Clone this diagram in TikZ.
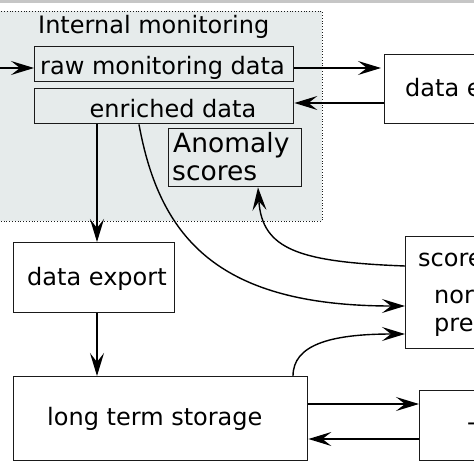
\documentclass[tikz,border=0pt]{standalone}
\usepackage{fontspec}
\setmainfont{DejaVu Sans}
\usetikzlibrary{arrows.meta}
\definecolor{contfill}{HTML}{E6EBEB}
\definecolor{bandgray}{HTML}{C6C6C6}
\definecolor{linec}{HTML}{1A1A1A}
\tikzset{
  box/.style={draw=linec, line width=1.4pt, rectangle, inner sep=0pt, anchor=north west},
  txt/.style={inner sep=0pt, anchor=base west, font=\fontsize{24}{28}\selectfont, text=black},
  bigtxt/.style={inner sep=0pt, anchor=base west, font=\fontsize{26.5}{30}\selectfont, text=black},
  conn/.style={draw=black, line width=1.4pt, -{Stealth[length=23pt,width=14pt,inset=9pt]}},
}
\begin{document}
\begin{tikzpicture}[x=1pt,y=-1pt]
\useasboundingbox (0,0) rectangle (474,474);
\clip (0,0) rectangle (474,474);
\fill[white] (0,0) rectangle (474,474);
\fill[bandgray] (0,0) rectangle (474,3);
% container
\filldraw[fill=contfill, draw=linec, line width=0.8pt, dotted] (-2,11) rectangle (322,221);
% boxes
\node[box, minimum width=259pt, minimum height=35pt] (raw) at (34,46) {};
\node[box, minimum width=259pt, minimum height=35pt] (enr) at (34,88) {};
\node[box, minimum width=133pt, minimum height=58pt] (anom) at (168,128) {};
\node[box, fill=white, minimum width=120pt, minimum height=69pt] (dex) at (384,54) {};
\node[box, fill=white, minimum width=161pt, minimum height=70pt] (exp) at (13,242) {};
\node[box, fill=white, minimum width=294pt, minimum height=84pt] (lts) at (13,376) {};
\node[box, fill=white, minimum width=100pt, minimum height=112pt] (sc) at (405,236) {};
\node[box, fill=white, minimum width=100pt, minimum height=70pt] (rb) at (419,390) {};
\coordinate (inL) at (0,68);
% texts
\node[txt] (tIM) at (38,33) {Internal monitoring};
\node[txt] (tRaw) at (40,74) {raw monitoring data};
\node[txt] (tEnr) at (89.5,117) {enriched data};
\node[bigtxt] (tA1) at (173,152) {Anomaly};
\node[bigtxt] (tA2) at (172,180) {scores};
\node[txt] (tDE) at (405,96) {data e};
\node[txt] (tExp) at (27,285) {data export};
\node[txt] (tLts) at (47,425) {long term storage};
\node[txt] (tS1) at (418,266) {score};
\node[txt] (tS2) at (434,303) {nor};
\node[txt] (tS3) at (434,331) {pre};
\node[txt] (tR) at (467,430) {-};
% connectors
\draw[conn] (inL) -- (raw.west |- inL);
\draw[conn] (raw.east |- 0,68) -- ([xshift=-3pt]dex.west |- 0,68);
\draw[conn] (dex.west |- 0,103) -- (enr.east |- 0,103);
\draw[conn] (enr.south -| 97,0) -- (exp.north -| 97,0);
\draw[conn] (exp.south -| 97,0) -- (lts.north -| 97,0);
\draw[conn] (enr.south -| 139,0) .. controls (160,240) and (220,306) .. (sc.west |- 0,306);
\draw[conn] (sc.west |- 0,266) .. controls (300,262) and (262,250) .. (anom.south -| 258,0);
\draw[conn] (lts.north -| 293,0) .. controls (293,345) and (330,334) .. (sc.west |- 0,334);
\draw[conn] (lts.east |- 0,404) -- (rb.west |- 0,404);
\draw[conn] (rb.west |- 0,439) -- (lts.east |- 0,439);
\end{tikzpicture}
\end{document}
